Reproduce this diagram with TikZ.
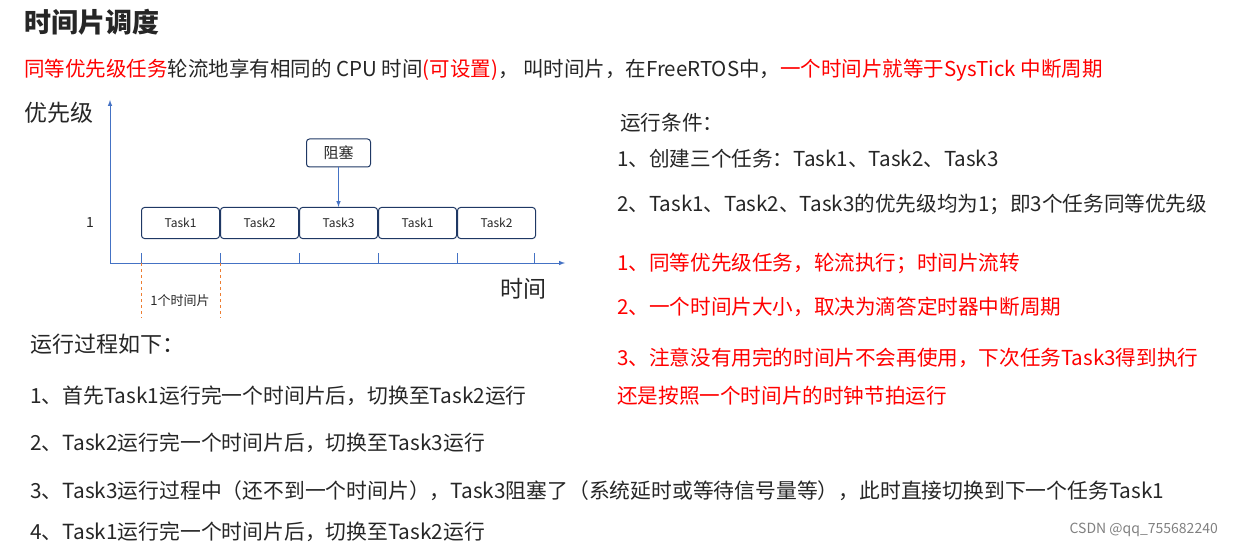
\documentclass[tikz,border=0pt]{standalone}
\usepackage{fontspec}
\setmainfont{Noto Sans CJK SC}
\usetikzlibrary{positioning}
\definecolor{axisblue}{HTML}{4472C4}
\definecolor{boxnavy}{HTML}{1F3864}
\definecolor{txtgray}{HTML}{262626}
\definecolor{slotorange}{HTML}{ED7D31}
\tikzset{
    slot/.style={draw=boxnavy, line width=1pt, rounded corners=3pt, minimum width=78pt, minimum height=31pt, font=\fontsize{12}{12}\selectfont, text=txtgray, inner sep=0pt},
    line/.style={anchor=west, inner sep=0pt, font=\fontsize{20.6}{20.6}\selectfont, text=txtgray},
    redline/.style={line, text=red},
    procline/.style={line, font=\fontsize{20.8}{20.8}\selectfont}
}
\begin{document}
\begin{tikzpicture}[x=1pt, y=-1pt]
    \useasboundingbox (0,0) rectangle (1234,548);
    % title and first line
    \node[anchor=west, inner sep=0pt, font=\fontsize{27}{27}\selectfont\bfseries, text=txtgray] (title) at (24,22) {时间片调度};
    \node[anchor=west, inner sep=0pt, font=\fontsize{20.5}{20.5}\selectfont] (intro) at (24,70)
        {\textcolor{red}{同等优先级任务}\textcolor{txtgray}{轮流地享有相同的 CPU 时间}\textcolor{red}{(可设置)}\textcolor{txtgray}{，\ 叫时间片，在FreeRTOS中，}\textcolor{red}{一个时间片就等于SysTick 中断周期}};
    % axes
    \coordinate (origin) at (110,263);
    \coordinate (ytop) at (110,100);
    \coordinate (xend) at (565,263);
    \draw[axisblue, line width=1pt, -latex] (origin) -- (ytop);
    \draw[axisblue, line width=1pt, -latex] (origin) -- (xend);
    \node[anchor=west, inner sep=0pt, font=\fontsize{23}{23}\selectfont, text=txtgray] (ylab) at (24,113) {优先级};
    \node[anchor=west, inner sep=0pt, font=\fontsize{23}{23}\selectfont, text=txtgray] (xlab) at (500,289) {时间};
    \node[inner sep=0pt, font=\fontsize{14}{14}\selectfont, text=txtgray] (prio) at (90,223) {1};
    % time slices
    \node[slot, anchor=west] (s1) at (141,223) {Task1};
    \node[slot, right=0pt of s1] (s2) {Task2};
    \node[slot, right=0pt of s2] (s3) {Task3};
    \node[slot, right=0pt of s3] (s4) {Task1};
    \node[slot, right=0pt of s4] (s5) {Task2};
    \foreach \x in {141,220,299,378,457,534}
        \draw[axisblue, line width=0.6pt] (\x,253) -- (\x,263);
    \draw[slotorange, dashed, line width=0.8pt] (141,263) -- (141,318);
    \draw[slotorange, dashed, line width=0.8pt] (220,263) -- (220,318);
    \node[inner sep=0pt, font=\fontsize{13}{13}\selectfont, text=txtgray] (slicelab) at (180,301) {1个时间片};
    \node[slot, minimum width=64pt, minimum height=28pt, font=\fontsize{15}{15}\selectfont] (block) at (s3 |- 0,153) {阻塞};
    \draw[axisblue, line width=1pt, -latex] (block) -- (s3);
    % run conditions
    \node[line] (cond) at (620,123) {运行条件：};
    \node[line] (c1) at (617,159) {1、创建三个任务：Task1、Task2、Task3};
    \node[line] (c2) at (617,204) {2、Task1、Task2、Task3的优先级均为1；即3个任务同等优先级};
    \node[redline] (r1) at (617,263) {1、同等优先级任务，轮流执行；时间片流转};
    \node[redline] (r2) at (617,307) {2、一个时间片大小，取决为滴答定时器中断周期};
    \node[redline] (r3) at (617,358) {3、注意没有用完的时间片不会再使用，下次任务Task3得到执行};
    \node[redline] (r4) at (617,396) {还是按照一个时间片的时钟节拍运行};
    % process
    \node[line, font=\fontsize{22}{22}\selectfont] (proc) at (30,344) {运行过程如下：};
    \node[procline] (p1) at (30,396) {1、首先Task1运行完一个时间片后，切换至Task2运行};
    \node[procline] (p2) at (30,443) {2、Task2运行完一个时间片后，切换至Task3运行};
    \node[procline] (p3) at (30,491) {3、Task3运行过程中（还不到一个时间片），Task3阻塞了（系统延时或等待信号量等），此时直接切换到下一个任务Task1};
    \node[procline] (p4) at (30,532) {4、Task1运行完一个时间片后，切换至Task2运行};
    \node[anchor=east, inner sep=0pt, font=\fontsize{14}{14}\selectfont, text=gray] (mark) at (1218,530) {CSDN @qq\_755682240};
\end{tikzpicture}
\end{document}
